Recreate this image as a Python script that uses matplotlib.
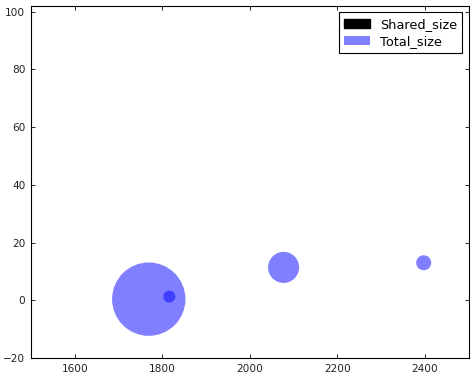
import matplotlib
matplotlib.use('Agg')
import matplotlib.pyplot as plt
from matplotlib.patches import Patch

# 数据
x_pos = [1769, 1816, 2077, 2397]
y_pos = [0.4, 1.3, 11.4, 13.0]
total_size = [2790, 75, 500, 117]

fig = plt.figure(figsize=(4.74, 3.79), dpi=100)
ax = fig.add_axes([0.0654, 0.0554, 0.9236, 0.9288])

ax.scatter(x_pos, y_pos, s=total_size, color='blue', alpha=0.5, linewidths=0)

ax.set_xlim(1500, 2500)
ax.set_ylim(-20, 102)
ax.set_xticks([1600, 1800, 2000, 2200, 2400])
ax.set_yticks([-20, 0, 20, 40, 60, 80, 100])
ax.tick_params(direction='in', top=True, right=True, labelsize=7.6, length=3, width=0.6, pad=4,
               labelcolor='#222222')
for sp in ax.spines.values():
    sp.set_linewidth(0.8)

handles = [Patch(facecolor='black', edgecolor='black', label='Shared_size'),
           Patch(facecolor='blue', alpha=0.5, edgecolor='none', label='Total_size')]
leg = ax.legend(handles=handles, loc='upper right', fontsize=9.3, fancybox=False,
                framealpha=1, edgecolor='black', borderaxespad=0.5,
                handlelength=2.0, handleheight=0.7, labelspacing=0.35)
leg.get_frame().set_linewidth(0.8)

fig.savefig('out.png', dpi=100)
